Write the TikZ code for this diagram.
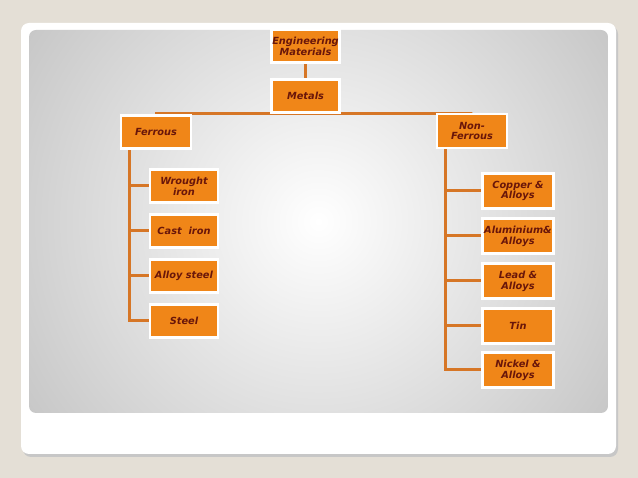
\documentclass[tikz,border=0pt]{standalone}
\usepackage{fontspec}
\newfontfamily\boxfont{DejaVu Sans}
\definecolor{slidebg}{RGB}{228,223,214}
\definecolor{boxorange}{RGB}{240,134,24}
\definecolor{linkorange}{RGB}{214,118,38}
\definecolor{boxtext}{RGB}{105,22,10}
\pgfdeclareradialshading{panelshade}{\pgfpoint{0bp}{0bp}}{%
  color(0bp)=(white); color(4bp)=(black!3); color(15bp)=(black!11);
  color(33bp)=(black!24); color(50bp)=(black!34); color(62bp)=(black!44)}
\pgfdeclarelayer{back}
\pgfdeclarelayer{links}
\pgfsetlayers{back,links,main}

\begin{document}
\begin{tikzpicture}[%
    x=1pt, y=-1pt,
    matbox/.style = {draw=white, line width=2.4pt, fill=boxorange, text=boxtext,
      font=\boxfont\bfseries\itshape\fontsize{9.8}{10.8}\selectfont,
      align=center, inner sep=0pt, minimum width=68pt, minimum height=33pt},
    rbox/.style = {matbox, minimum width=71pt, minimum height=35pt},
    link/.style = {draw=linkorange, line width=3pt}%
  ]
    \useasboundingbox (0,0) rectangle (638,478);

    \node[matbox] (engmat) at (305.5,46) {Engineering\\Materials};
    \node[matbox] (metals) at (305.5,96) {Metals};
    \node[matbox, minimum width=70pt] (ferrous) at (156,132) {Ferrous};
    \node[matbox, minimum width=70pt, minimum height=34pt] (nonferrous) at (472,131) {Non-\\Ferrous};

    \node[matbox] (wrought) at (184,186) {Wrought\\iron};
    \node[matbox] (castiron) at (184,231) {Cast~ iron};
    \node[matbox] (alloysteel) at (184,276) {Alloy steel};
    \node[matbox] (steel) at (184,321) {Steel};

    \node[rbox] (copper) at (518,191) {Copper \&\\Alloys};
    \node[rbox] (alu) at (518,236) {Aluminium\&\\Alloys};
    \node[rbox] (lead) at (518,281) {Lead \&\\Alloys};
    \node[rbox] (tin) at (518,326) {Tin};
    \node[rbox] (nickel) at (518,370) {Nickel \&\\Alloys};

    \coordinate (ftrunk) at (129,150);
    \coordinate (ntrunk) at (445,148);

    \begin{pgfonlayer}{links}
      \draw[link] (engmat) -- (metals);
      \draw[link] (ferrous.north) |- (metals.south) -| (nonferrous.north);
      \draw[link] (ftrunk) |- (steel.west);
      \foreach \n in {wrought,castiron,alloysteel}
        \draw[link] (\n.west) -- (\n.west -| ftrunk);
      \draw[link] (ntrunk) |- (nickel.west);
      \foreach \n in {copper,alu,lead,tin}
        \draw[link] (\n.west) -- (\n.west -| ntrunk);
    \end{pgfonlayer}

    \begin{pgfonlayer}{back}
      \fill[slidebg] (0,0) rectangle (638,478);
      \fill[black!22, rounded corners=8pt] (23,26) rectangle (618,457);
      \fill[white, rounded corners=8pt] (21,23) rectangle (616,454);
      \begin{scope}
        \clip[rounded corners=7pt] (29,30) rectangle (608,413);
        \shade[shading=panelshade] (28.5,-68.5) rectangle (608.5,511.5);
      \end{scope}
    \end{pgfonlayer}
  \end{tikzpicture}
\end{document}
